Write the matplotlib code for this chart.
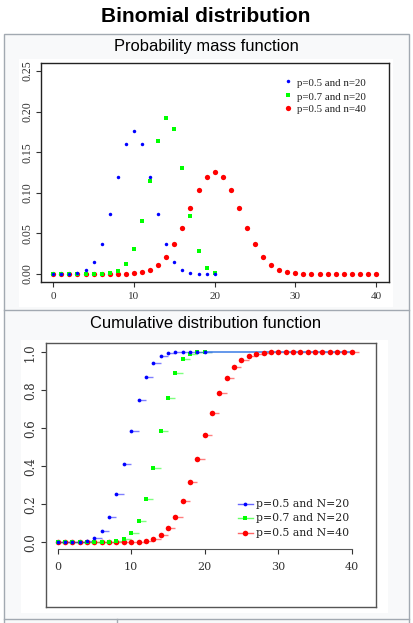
import matplotlib.pyplot as plt
from matplotlib.patches import Rectangle

# данные
k20 = list(range(21))
k40 = list(range(41))

pmf_05_20 = [0, 0, 0.0002, 0.001, 0.005, 0.015, 0.037, 0.074, 0.120, 0.160, 0.176,
             0.160, 0.120, 0.074, 0.037, 0.015, 0.005, 0.001, 0.0002, 0, 0]
pmf_07_20 = [0, 0, 0, 0, 0, 0, 0.0002, 0.001, 0.004, 0.012, 0.031,
             0.065, 0.114, 0.164, 0.192, 0.179, 0.130, 0.072, 0.028, 0.007, 0.001]
pmf_05_40 = [0, 0, 0, 0, 0, 0, 0, 0, 0, 0.0002, 0.0008, 0.002, 0.005, 0.011, 0.021,
             0.037, 0.057, 0.081, 0.103, 0.119, 0.125, 0.119, 0.103, 0.081, 0.057,
             0.037, 0.021, 0.011, 0.005, 0.002, 0.0008, 0.0002, 0, 0, 0, 0, 0, 0, 0, 0, 0]

cdf_05_20 = [0, 0, 0.0002, 0.001, 0.006, 0.021, 0.058, 0.132, 0.252, 0.412, 0.588,
             0.748, 0.868, 0.942, 0.979, 0.994, 0.999, 1, 1, 1, 1]
cdf_07_20 = [0, 0, 0, 0, 0, 0, 0.0003, 0.001, 0.005, 0.017, 0.048,
             0.113, 0.228, 0.392, 0.584, 0.762, 0.893, 0.965, 0.992, 0.999, 1]
cdf_05_40 = [0, 0, 0, 0, 0, 0, 0, 0, 0, 0.0003, 0.001, 0.003, 0.008, 0.019, 0.040,
             0.077, 0.134, 0.215, 0.318, 0.437, 0.563, 0.682, 0.785, 0.866, 0.923,
             0.960, 0.981, 0.992, 0.997, 0.999, 1, 1, 1, 1, 1, 1, 1, 1, 1, 1, 1]

pmf_labels = ['p=0.5 and n=20', 'p=0.7 and n=20', 'p=0.5 and n=40']
cdf_labels = ['p=0.5 and N=20', 'p=0.7 and N=20', 'p=0.5 and N=40']

W, H = 413, 623


def rect(l, t, r, b):
    return [l / W, 1 - b / H, (r - l) / W, (b - t) / H]


def axfrac(box, x, y):
    l, t, r, b = box
    return (x - l) / (r - l), (b - y) / (b - t)


fig = plt.figure(figsize=(W / 100, H / 100), dpi=100)
fig.patch.set_facecolor('white')

# фон инфобокса
bg = fig.add_axes([0, 0, 1, 1])
bg.set_xlim(0, W)
bg.set_ylim(H, 0)
bg.axis('off')
bg.add_patch(Rectangle((3.5, 33.5), 405, 600, facecolor='#f8f9fa', edgecolor='#a2a9b1', lw=1))
bg.add_patch(Rectangle((19, 59), 374, 248, facecolor='white', edgecolor='none'))
bg.add_patch(Rectangle((21, 340), 367, 273, facecolor='white', edgecolor='none'))
bg.plot([3.5, 408.5], [310, 310], color='#a2a9b1', lw=1)
bg.plot([3.5, 408.5], [618.5, 618.5], color='#a2a9b1', lw=1)
bg.plot([117, 117], [618.5, 623], color='#a2a9b1', lw=1)
bg.text(206, 17, 'Binomial distribution', ha='center', va='center',
        fontsize=15, fontweight='bold', family='Liberation Sans')
bg.text(206, 46, 'Probability mass function', ha='center', va='center',
        fontsize=11.9, family='Liberation Sans')
bg.text(206, 323, 'Cumulative distribution function', ha='center', va='center',
        fontsize=11.9, family='Liberation Sans')

# Функция вероятности
box1 = (40.7, 62.7, 389, 281.7)
ax = fig.add_axes(rect(*box1))
ax.set_xlim(-1.56, 41.61)
ax.set_ylim(-0.0095, 0.2602)
ax.plot(k40, pmf_05_40, 'o', color='#ff0000', ms=3.8, mew=0)
ax.plot(k20, pmf_07_20, 's', color='#00ff00', ms=3.0, mew=0)
ax.plot(k20, pmf_05_20, 'o', color='#0000ff', ms=2.5, mew=0)
ax.set_xticks([0, 10, 20, 30, 40])
ax.set_yticks([0, 0.05, 0.10, 0.15, 0.20, 0.25])
ax.set_yticklabels(['0.00', '0.05', '0.10', '0.15', '0.20', '0.25'],
                   rotation=90, va='center')
ax.tick_params(direction='out', length=3.5, width=0.8, colors='#333333',
               labelsize=8)
ax.tick_params(axis='y', labelsize=8.5, pad=2)
ax.tick_params(axis='x', pad=4)
for lab in ax.get_xticklabels() + ax.get_yticklabels():
    lab.set_family('Liberation Serif')
for s in ax.spines.values():
    s.set_color('#222222')
    s.set_linewidth(1)

styles = [('o', '#0000ff', 2.5), ('s', '#00ff00', 3.0), ('o', '#ff0000', 3.8)]
for i, (m, c, ms) in enumerate(styles):
    y = [83, 97, 110][i]
    mx, my = axfrac(box1, 288, y - 2)
    ax.plot([mx], [my], m, color=c, ms=ms, mew=0, transform=ax.transAxes, clip_on=False)
    tx, ty = axfrac(box1, 297, y)
    ax.text(tx, ty, pmf_labels[i], transform=ax.transAxes, va='center', ha='left',
            fontsize=7.8, family='Liberation Serif', color='#222222')

# Функция распределения
box2 = (46, 343, 376, 607)
ax2 = fig.add_axes(rect(*box2))
ax2.set_xlim(-1.59, 43.3)
ax2.set_ylim(-0.3405, 1.049)
cdf_series = [(k40, cdf_05_40, 'o', '#ff0000', 4.0),
              (k20, cdf_07_20, 's', '#00ff00', 3.3),
              (k20, cdf_05_20, 'o', '#0000ff', 2.7)]
for xs, ys, m, c, ms in cdf_series:
    ax2.hlines(ys, [x for x in xs], [x + 1 for x in xs], color=c, lw=1, alpha=0.5)
ax2.hlines([cdf_05_20[-1]], [k20[-1]], [40], color='#4a86e8', lw=1.2)
for xs, ys, m, c, ms in cdf_series:
    ax2.plot(xs, ys, m, color=c, ms=ms, mew=0)
ax2.set_xticks([])
ax2.set_yticks([0, 0.2, 0.4, 0.6, 0.8, 1.0])
ax2.set_yticklabels(['0.0', '0.2', '0.4', '0.6', '0.8', '1.0'], rotation=90, va='center')
ax2.tick_params(direction='out', length=3.5, width=0.8, colors='#333333',
                labelsize=8.5, pad=3)
for lab in ax2.get_yticklabels():
    lab.set_family('DejaVu Serif')
for s in ax2.spines.values():
    s.set_color('#555555')
    s.set_linewidth(1)

# отдельная ось x, как в R
ax3 = fig.add_axes(rect(46, 530, 376, 549))
ax3.set_xlim(-1.59, 43.3)
ax3.patch.set_visible(False)
for name in ['top', 'left', 'right']:
    ax3.spines[name].set_visible(False)
ax3.spines['bottom'].set_bounds(0, 40)
ax3.spines['bottom'].set_color('#555555')
ax3.set_yticks([])
ax3.set_xticks([0, 10, 20, 30, 40])
ax3.tick_params(direction='out', length=3.5, width=0.8, colors='#333333',
                labelsize=8, pad=6)
for lab in ax3.get_xticklabels():
    lab.set_family('DejaVu Serif')

for i, (xs, ys, m, c, ms) in enumerate(cdf_series[::-1]):
    y = [504, 518, 533][i]
    x0, yy = axfrac(box2, 238, y)
    x1, _ = axfrac(box2, 253, y)
    xm, _ = axfrac(box2, 245.5, y)
    ax2.plot([x0, x1], [yy, yy], color=c, lw=1, alpha=0.6, transform=ax2.transAxes)
    ax2.plot([xm], [yy], m, color=c, ms=ms, mew=0, transform=ax2.transAxes)
    tx, _ = axfrac(box2, 256, y)
    ax2.text(tx, yy, cdf_labels[i], transform=ax2.transAxes, va='center', ha='left',
             fontsize=7.8, family='DejaVu Serif', color='#222222')

fig.savefig('out.png', dpi=100)
